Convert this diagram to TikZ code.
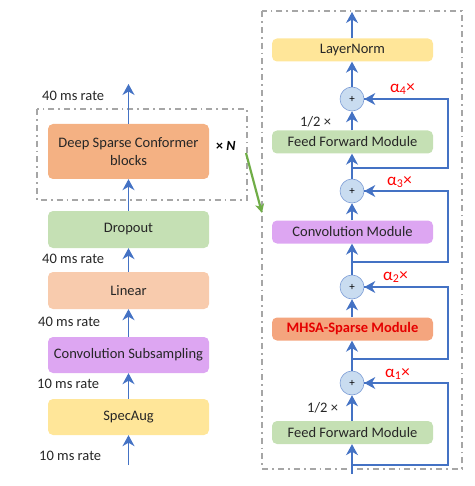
\documentclass[tikz,border=0pt]{standalone}
\usepackage{fontspec}
\setmainfont{Carlito}
\usetikzlibrary{arrows.meta}
\definecolor{ablue}{HTML}{4472C4}
\definecolor{cyel}{HTML}{FFE699}
\definecolor{cgreen}{HTML}{C5E0B4}
\definecolor{corange}{HTML}{F4B183}
\definecolor{cpeach}{HTML}{F8CBAD}
\definecolor{cpurple}{HTML}{DDA6F2}
\definecolor{cmhsa}{HTML}{F4A57E}
\definecolor{ccirc}{HTML}{C9DCF0}
\definecolor{dgray}{HTML}{A6A6A6}
\definecolor{agreen}{HTML}{70AD47}
\tikzset{
  blk/.style={rounded corners=5pt, inner sep=0pt, text=black!85,
    font=\fontsize{14.5}{18}\selectfont, align=center},
  lblk/.style={blk, minimum width=161pt},
  rblk/.style={blk, minimum width=161pt, minimum height=23pt},
  arr/.style={draw=ablue, line width=1.1pt, -{Stealth[length=11pt,width=12pt,inset=3.5pt]}},
  res/.style={draw=ablue, line width=1.1pt},
  plusc/.style={circle, draw=ablue!70, line width=0.6pt, fill=ccirc, minimum size=24pt, inner sep=0pt, font=\fontsize{11}{12}\selectfont},
  dbox/.style={draw=dgray, line width=1.8pt, dash pattern=on 6pt off 4pt on 1.8pt off 4pt},
  rate/.style={font=\fontsize{14.5}{16}\selectfont, text=black!85, inner sep=0pt},
  alab/.style={font=\fontsize{17}{18}\selectfont, text=red, inner sep=0pt},
}
\begin{document}
\begin{tikzpicture}[x=1pt,y=-1pt]
\useasboundingbox (0,0) rectangle (474,486);
% dashed boxes
\draw[dbox] (37,109) rectangle (247,200);
\draw[dbox] (262,11) rectangle (462,469);
% left column
\node[lblk, fill=corange, minimum height=55pt] (deep) at (128.5,151.5) {Deep Sparse Conformer\\blocks};
\node[lblk, fill=cgreen, minimum height=37pt] (drop) at (128.5,229.5) {Dropout};
\node[lblk, fill=cpeach, minimum height=37pt] (lin) at (128.5,290.5) {Linear};
\node[lblk, fill=cpurple, minimum height=36pt] (csub) at (128.5,355) {Convolution Subsampling};
\node[lblk, fill=cyel, minimum height=36pt] (spec) at (128.5,417) {SpecAug};
\coordinate (lin0) at (128.5,465);
\coordinate (lout) at (128.5,84);
\draw[arr] (lin0) -- (spec.south);
\draw[arr] (spec.north) -- (csub.south);
\draw[arr] (csub.north) -- (lin.south);
\draw[arr] (lin.north) -- (drop.south);
\draw[arr] (drop.north) -- (deep.south);
\draw[arr] (deep.north) -- (lout);
\node[rate, anchor=west] (r1) at (42,96) {40 ms rate};
\node[rate, anchor=west] (r2) at (42,259) {40 ms rate};
\node[rate, anchor=west] (r3) at (38,322) {40 ms rate};
\node[rate, anchor=west] (r4) at (37,384) {10 ms rate};
\node[rate, anchor=west] (r5) at (39,456) {10 ms rate};
\node[inner sep=0pt, font=\fontsize{14}{15}\selectfont\bfseries, anchor=west] (xn) at (216,146) {× \textit{N}};
% green arrow
\coordinate (g0) at (246,153);
\coordinate (g1) at (262,213);
\draw[draw=agreen, line width=2.2pt, -{Stealth[length=9pt,width=9pt,inset=2.5pt]}] (g0) -- (g1);
% right column
\node[rblk, fill=cgreen] (ff1) at (352.5,432.5) {Feed Forward Module};
\node[plusc] (p1) at (352,383) {+};
\node[rblk, fill=cmhsa, text=red!90!black, font=\fontsize{14.5}{16}\selectfont\bfseries] (mhsa) at (352.5,329) {MHSA-Sparse Module};
\node[plusc] (p2) at (352,287) {+};
\node[rblk, fill=cpurple] (conv) at (352.5,232) {Convolution Module};
\node[plusc] (p3) at (352,191) {+};
\node[rblk, fill=cgreen] (ff2) at (352.5,142) {Feed Forward Module};
\node[plusc] (p4) at (352,99) {+};
\node[rblk, fill=cyel] (ln) at (352.5,50) {LayerNorm};
\coordinate (rin) at (352,474);
\coordinate (rout) at (352,12);
\draw[arr] (rin) -- (ff1.south -| rin);
\draw[arr] (ff1.north -| p1) -- (p1.south);
\draw[arr] (p1.north) -- (mhsa.south -| p1);
\draw[arr] (mhsa.north -| p2) -- (p2.south);
\draw[arr] (p2.north) -- (conv.south -| p2);
\draw[arr] (conv.north -| p3) -- (p3.south);
\draw[arr] (p3.north) -- (ff2.south -| p3);
\draw[arr] (ff2.north -| p4) -- (p4.south);
\draw[arr] (p4.north) -- (ln.south -| p4);
\draw[arr] (ln.north -| p4) -- (rout);
% residuals
\coordinate (j1) at (352,465);
\coordinate (j2) at (352,359);
\coordinate (j3) at (352,262);
\coordinate (j4) at (352,168);
\draw[res] (j1) -- (448,465) |- (p1.east);
\draw[arr] (448,383) -- (p1.east);
\draw[res] (j2) -- (448,359) |- (p2.east);
\draw[arr] (448,287) -- (p2.east);
\draw[res] (j3) -- (448,262) |- (p3.east);
\draw[arr] (448,191) -- (p3.east);
\draw[res] (j4) -- (448,168) |- (p4.east);
\draw[arr] (448,99) -- (p4.east);
% labels
\node[alab, anchor=west] (a1) at (385,374) {α\textsubscript{1}×};
\node[alab, anchor=west] (a2) at (383,277) {α\textsubscript{2}×};
\node[alab, anchor=west] (a3) at (387,182) {α\textsubscript{3}×};
\node[alab, anchor=west] (a4) at (390,89) {α\textsubscript{4}×};
\node[rate, anchor=west] (h1) at (307,408) {1/2 ×};
\node[rate, anchor=west] (h2) at (300,122) {1/2 ×};
\end{tikzpicture}
\end{document}
